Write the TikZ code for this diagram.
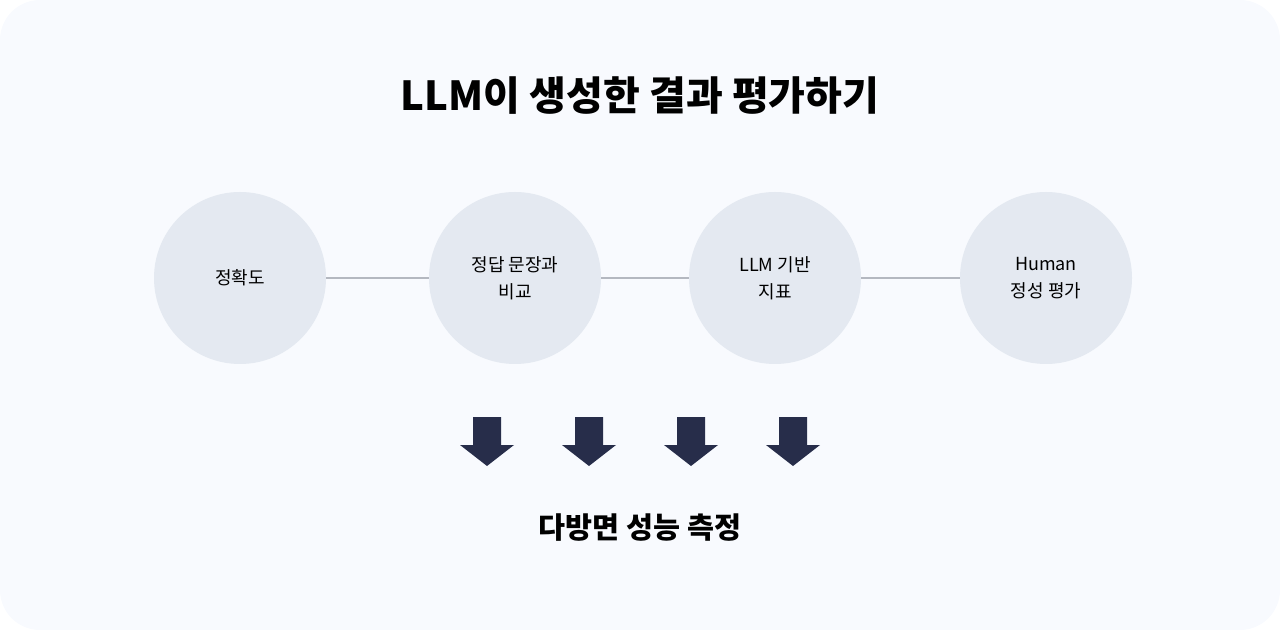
\documentclass[tikz,border=0pt]{standalone}
\usepackage{fontspec}
\setmainfont{Noto Sans CJK KR}
\definecolor{mybg}{RGB}{248,250,254}
\definecolor{mycircle}{RGB}{228,233,241}
\definecolor{myline}{RGB}{180,184,192}
\definecolor{mynavy}{RGB}{39,45,74}
\usetikzlibrary{positioning}
\tikzset{step circle/.style={circle,fill=mycircle,minimum size=129pt,inner sep=0pt,align=center,font=\fontsize{13.5}{20}\selectfont}}
\begin{document}
\begin{tikzpicture}[x=0.75pt,y=-0.75pt]
\useasboundingbox (0,0) rectangle (1280,630);
\fill[mybg,rounded corners=30pt] (0,0) rectangle (1280,630);
\node[font=\fontsize{30}{36}\selectfont\bfseries] (title) at (640,96) {LLM이 생성한 결과 평가하기};
\node[step circle] (acc) at (240,278) {정확도};
\node[step circle] (cmp) at (515,278) {정답 문장과\\비교};
\node[step circle] (llm) at (775,278) {LLM 기반\\지표};
\node[step circle] (hum) at (1046,278) {Human\\정성 평가};
\draw[myline,line width=1pt] (acc) -- (cmp) (cmp) -- (llm) (llm) -- (hum);
\foreach \x in {487,589,691,793}
  \fill[mynavy] (\x-14,417) -- (\x+14,417) -- (\x+14,445) -- (\x+27,445) -- (\x,466) -- (\x-27,445) -- (\x-14,445) -- cycle;
\node[font=\fontsize{22}{28}\selectfont\bfseries] (result) at (640,528) {다방면 성능 측정};
\end{tikzpicture}
\end{document}
